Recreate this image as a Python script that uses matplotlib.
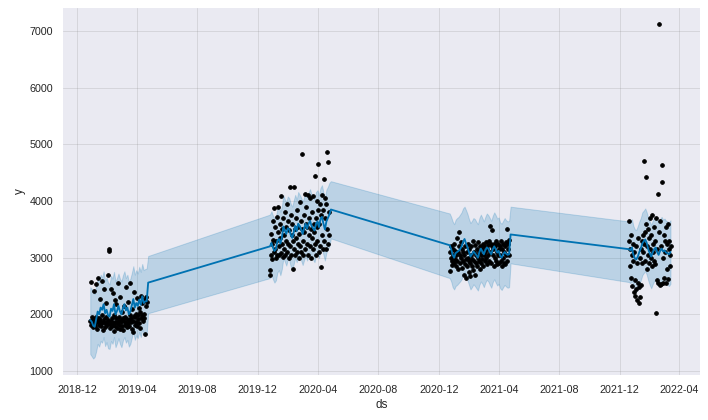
import numpy as np
import pandas as pd
import matplotlib
matplotlib.use("Agg")
import matplotlib.pyplot as plt
import matplotlib.dates as mdates

# observed points, one per day, four separate stretches
obs_start = ["2018-12-28", "2019-12-26", "2020-12-23", "2021-12-20"]

y_seg1 = [1880, 1820, 2570, 1900, 1950, 1780, 1860, 2410, 1920, 1840,
          1800, 2530, 1960, 1890, 1750, 1870, 2640, 1930, 1820, 1900,
          2270, 1790, 1850, 1980, 2580, 1860, 1720, 1910, 2450, 1840,
          1780, 1950, 2200, 1870, 1820, 2700, 1900, 3120, 3150, 1830,
          1760, 2440, 1890, 1940, 1800, 2380, 1850, 1710, 1990, 2250,
          1870, 1790, 2190, 1930, 1840, 1760, 2560, 1880, 1950, 1820,
          1740, 2300, 1900, 1860, 1790, 2050, 1930, 1720, 1880, 2150,
          1810, 1960, 1850, 2480, 1770, 1920, 1840, 2210, 1900, 1790,
          1980, 2560, 1860, 1930, 1750, 2100, 1890, 1680, 1970, 2400,
          1820, 1950, 2010, 1870, 2280, 1790, 1990, 1920, 2120, 1850,
          2050, 1760, 1940, 2330, 1980, 2200, 1880, 2260, 2000, 1930,
          2250, 1650, 2150, 2300, 2220]

y_seg2 = [2780, 2700, 3420, 3050, 3250, 2980, 3650, 3320, 3100, 3870,
          3150, 3550, 3000, 3300, 3720, 3050, 3450, 3900, 3200, 3050,
          3600, 3350, 3080, 4080, 3500, 3250, 3020, 3700, 3400, 3150,
          3800, 3050, 3550, 3300, 3950, 3100, 3650, 3250, 3000, 3480,
          4250, 3200, 3750, 3050, 3400, 3600, 2800, 3300, 4250, 3150,
          3500, 3050, 3700, 3350, 3100, 3850, 3250, 3550, 3000, 3420,
          3980, 3200, 3650, 3100, 3500, 4830, 3300, 3050, 3750, 3450,
          4120, 3150, 3600, 3900, 3250, 3550, 4100, 3050, 3400, 3700,
          3200, 4050, 3500, 3000, 3800, 3350, 4080, 3150, 3600, 3450,
          4450, 3250, 3700, 3050, 4000, 3550, 3300, 3850, 4650, 3100,
          3600, 3950, 3200, 2830, 3750, 3400, 4100, 3150, 3850, 4380,
          3300, 3700, 4050, 3150, 3950, 3500, 4870, 3250, 4680, 3400,
          3800]

y_seg3 = [3100, 2760, 3000, 3200, 2950, 2870, 3150, 3050, 2900, 3250,
          2980, 3120, 2850, 3050, 3350, 2950, 3100, 2800, 3200, 3460,
          3050, 2900, 3280, 3000, 2820, 3150, 2950, 3100, 2700, 3050,
          2880, 3200, 2650, 2980, 3100, 2850, 3000, 3250, 2750, 2950,
          3150, 2900, 2680, 3050, 3200, 2850, 2980, 3300, 2780, 3100,
          2950, 3220, 2700, 3050, 2900, 3150, 2850, 3000, 3280, 2950,
          3100, 2800, 3200, 3050, 2900, 3150, 2980, 3250, 2850, 3050,
          3200, 2950, 3100, 3280, 3000, 2880, 3150, 3220, 3050, 3300,
          2950, 3560, 3100, 3250, 2900, 3200, 3480, 3050, 3150, 2850,
          3250, 3000, 3200, 3300, 2950, 3100, 2880, 3250, 3050, 3150,
          2900, 3200, 3050, 2950, 3300, 2850, 3150, 3000, 3250, 2900,
          3100, 3200, 2880, 3050, 3280, 2950, 3500, 3150, 3250, 3050,
          3320]

y_seg4 = [3650, 3300, 2850, 3150, 3400, 2650, 3050, 2500, 2950, 3250,
          2400, 3100, 2600, 2330, 3200, 2450, 2900, 2250, 2550, 3350,
          2200, 2480, 3000, 2300, 3150, 2520, 3300, 2900, 3400, 3100,
          4700, 3250, 3450, 2950, 4420, 3600, 3200, 2800, 3500, 3050,
          3350, 2900, 3700, 3150, 3000, 3400, 2850, 3750, 3100, 3250,
          2950, 3550, 3300, 2880, 2020, 3700, 2600, 3150, 2550, 4130,
          3450, 7120, 2520, 3650, 3200, 2530, 4640, 4330, 3000, 2560,
          3400, 2650, 3300, 3100, 2550, 3550, 2800, 3250, 3600, 2620,
          3150, 3300, 2850, 3050, 3200]

# model output, sampled every 3 days over each stretch
yhat_seg1 = [1900, 1870, 1800, 1780, 1920, 2050, 2000, 2120, 2080, 2180,
             2020, 2080, 1980, 1960, 2100, 2060, 2180, 2000, 2060, 2150,
             2050, 2000, 2110, 2180, 2070, 2120, 2000, 2050, 2160, 2270,
             2120, 2200, 2150, 2260, 2170, 2320, 2200, 2230, 2230]
lower_seg1 = [1300, 1260, 1220, 1250, 1350, 1480, 1430, 1530, 1500, 1600,
              1440, 1510, 1400, 1390, 1530, 1480, 1600, 1420, 1490, 1580,
              1480, 1420, 1540, 1600, 1500, 1550, 1430, 1480, 1590, 1700,
              1550, 1630, 1580, 1690, 1600, 1740, 1640, 1660, 1650]
upper_seg1 = [2480, 2450, 2380, 2360, 2500, 2620, 2580, 2700, 2650, 2760,
              2590, 2650, 2560, 2530, 2680, 2630, 2750, 2580, 2640, 2720,
              2630, 2580, 2690, 2760, 2640, 2700, 2570, 2630, 2730, 2850,
              2700, 2780, 2720, 2840, 2750, 2890, 2780, 2800, 2810]

yhat_seg2 = [3200, 3260, 3180, 3120, 3150, 3300, 3330, 3250, 3350, 3550,
             3480, 3420, 3520, 3500, 3400, 3350, 3450, 3560, 3470, 3600,
             3560, 3500, 3420, 3520, 3600, 3510, 3600, 3650, 3560, 3520,
             3480, 3600, 3640, 3540, 3680, 3720, 3600, 3500, 3640, 3700,
             3760]
lower_seg2 = [2640, 2700, 2620, 2560, 2600, 2740, 2780, 2690, 2800, 2990,
              2930, 2860, 2970, 2950, 2840, 2800, 2890, 3000, 2920, 3050,
              3000, 2950, 2870, 2960, 3050, 2950, 3050, 3090, 3010, 2970,
              2920, 3050, 3080, 2990, 3130, 3160, 3050, 2950, 3090, 3150,
              3200]
upper_seg2 = [3760, 3820, 3740, 3700, 3720, 3860, 3900, 3810, 3900, 4100,
              4030, 3980, 4080, 4050, 3950, 3900, 4010, 4110, 4020, 4160,
              4110, 4060, 3980, 4070, 4160, 4060, 4150, 4210, 4110, 4080,
              4030, 4160, 4190, 4100, 4230, 4280, 4150, 4060, 4200, 4250,
              4320]

yhat_seg3 = [3220, 3150, 3050, 3000, 3080, 3100, 3120, 3150, 3200, 3280,
             3330, 3250, 3180, 3100, 3020, 3060, 3110, 3080, 3040, 3000,
             3100, 3160, 3110, 3060, 3130, 3180, 3160, 3100, 3060, 3150,
             3200, 3150, 3090, 3120, 3030, 3000, 3060, 3100, 3070, 3050,
             3060]
lower_seg3 = [2640, 2580, 2480, 2440, 2500, 2520, 2550, 2580, 2620, 2700,
              2760, 2670, 2600, 2520, 2440, 2480, 2530, 2500, 2460, 2420,
              2520, 2580, 2540, 2480, 2560, 2610, 2580, 2520, 2470, 2570,
              2620, 2560, 2510, 2540, 2460, 2430, 2480, 2520, 2490, 2470,
              2480]
upper_seg3 = [3780, 3720, 3640, 3590, 3670, 3700, 3720, 3760, 3800, 3870,
              3900, 3840, 3770, 3680, 3610, 3650, 3700, 3680, 3630, 3590,
              3700, 3760, 3700, 3640, 3720, 3780, 3750, 3700, 3650, 3740,
              3800, 3750, 3690, 3710, 3620, 3600, 3650, 3700, 3660, 3640,
              3650]

yhat_seg4 = [3150, 3130, 3180, 3050, 2990, 2970, 3020, 3100, 3160, 3250,
             3290, 3320, 3260, 3150, 3080, 3020, 3090, 3150, 3180, 3100,
             3050, 3120, 3160, 3110, 3130, 3090, 3080, 3060, 3100]
lower_seg4 = [2570, 2550, 2600, 2480, 2420, 2400, 2460, 2540, 2600, 2690,
              2730, 2760, 2700, 2600, 2520, 2460, 2530, 2590, 2620, 2540,
              2490, 2560, 2600, 2550, 2570, 2530, 2520, 2500, 2540]
upper_seg4 = [3640, 3620, 3680, 3560, 3500, 3490, 3560, 3640, 3700, 3800,
              3830, 3870, 3800, 3700, 3640, 3580, 3650, 3700, 3730, 3660,
              3610, 3680, 3720, 3670, 3690, 3650, 3640, 3620, 3660]

# the first forecast point after each of the first three stretches
after_dates = ["2019-04-24", "2020-04-27", "2021-04-25"]
after_yhat = [2560, 3850, 3410]
after_lower = [2020, 3340, 2900]
after_upper = [3030, 4350, 3900]

obs_y = [y_seg1, y_seg2, y_seg3, y_seg4]
yhats = [yhat_seg1, yhat_seg2, yhat_seg3, yhat_seg4]
lowers = [lower_seg1, lower_seg2, lower_seg3, lower_seg4]
uppers = [upper_seg1, upper_seg2, upper_seg3, upper_seg4]

ds, y = [], []
fds, fy, flo, fhi = [], [], [], []
for k in range(4):
    d = pd.date_range(obs_start[k], periods=len(obs_y[k]), freq="D")
    ds.extend(d)
    y.extend(obs_y[k])
    fd = pd.date_range(obs_start[k], periods=len(yhats[k]), freq="3D")
    fds.extend(fd)
    fy.extend(yhats[k])
    flo.extend(lowers[k])
    fhi.extend(uppers[k])
    if k < 3:
        fds.append(pd.Timestamp(after_dates[k]))
        fy.append(after_yhat[k])
        flo.append(after_lower[k])
        fhi.append(after_upper[k])

ds = pd.to_datetime(ds).to_numpy()
fds = pd.to_datetime(fds).to_numpy()

plt.style.use("seaborn-v0_8-darkgrid")
plt.rcParams["xtick.labelsize"] = 11
plt.rcParams["ytick.labelsize"] = 11
plt.rcParams["axes.labelsize"] = 12
plt.rcParams["text.color"] = ".15"
plt.rcParams["xtick.color"] = ".15"
plt.rcParams["ytick.color"] = ".15"

fig = plt.figure(figsize=(708 / 70, 6), dpi=70, facecolor="w")
ax = fig.add_subplot(111)
ax.plot(ds, y, "k.", ms=7.5)
ax.plot(fds, fy, ls="-", c="#0072B2", lw=1.9)
ax.fill_between(fds, flo, fhi, color="#0072B2", alpha=0.2)
ax.grid(True, which="major", c="gray", ls="-", lw=1, alpha=0.2)
ax.set_xlabel("ds")
ax.set_ylabel("y")
ax.tick_params(axis="both", length=0, pad=10)

ax.xaxis.set_major_locator(mdates.MonthLocator(bymonth=[4, 8, 12]))
ax.xaxis.set_major_formatter(mdates.DateFormatter("%Y-%m"))
ax.set_xlim(np.datetime64("2018-11-03"), np.datetime64("2022-05-13"))
ax.set_ylim(929, 7406)

fig.subplots_adjust(left=0.089, right=0.989, top=0.981, bottom=0.107)
fig.savefig("out.png", dpi=70)
